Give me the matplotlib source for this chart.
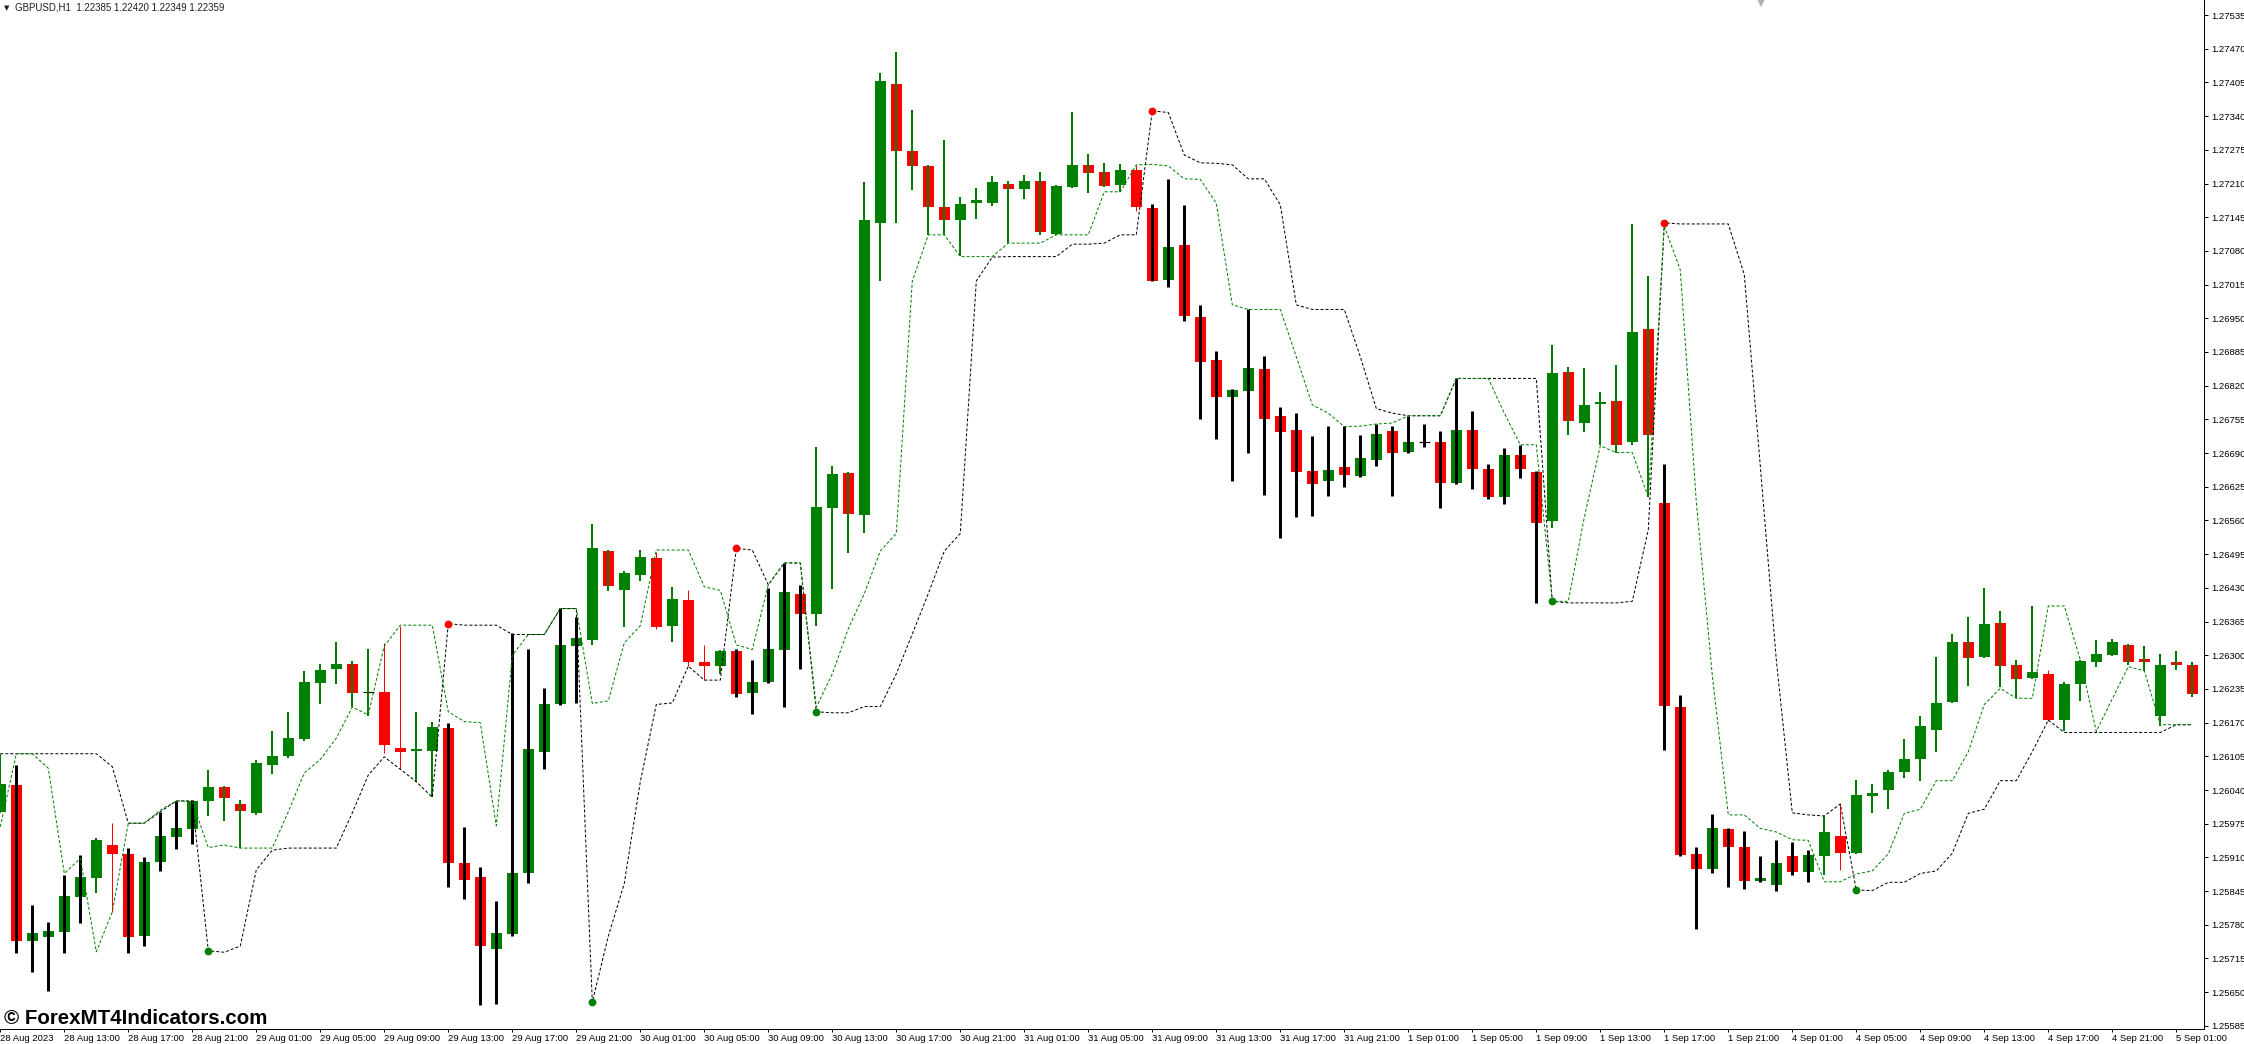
import matplotlib
matplotlib.use("Agg")
import matplotlib.pyplot as plt
import numpy as np

plt.rcParams['font.family'] = ['Liberation Sans', 'DejaVu Sans']

# ---------------- data (GBPUSD H1, 28 Aug 2023 09:00 -> 5 Sep 2023 02:00) ----------------
opens = [
    1.25998, 1.26050, 1.25748, 1.25757, 1.25767, 1.25834, 1.25871, 1.25933, 1.25917, 1.25759,
    1.25901, 1.25950, 1.25964, 1.26018, 1.26045, 1.26013, 1.25995, 1.26088, 1.26106, 1.26139,
    1.26247, 1.26274, 1.26283, 1.26230, 1.26229, 1.26122, 1.26115, 1.26115, 1.26160, 1.25900,
    1.25872, 1.25733, 1.25763, 1.25880, 1.26113, 1.26206, 1.26317, 1.26330, 1.26501, 1.26426,
    1.26455, 1.26488, 1.26357, 1.26407, 1.26287, 1.26279, 1.26308, 1.26228, 1.26249, 1.26311,
    1.26419, 1.26380, 1.26585, 1.26652, 1.26571, 1.27134, 1.27402, 1.27273, 1.27244, 1.27165,
    1.27139, 1.27172, 1.27173, 1.27209, 1.27200, 1.27215, 1.27113, 1.27204, 1.27246, 1.27232,
    1.27207, 1.27236, 1.27163, 1.27023, 1.27092, 1.26953, 1.26870, 1.26799, 1.26810, 1.26853,
    1.26762, 1.26735, 1.26656, 1.26637, 1.26664, 1.26646, 1.26677, 1.26733, 1.26693, 1.26712,
    1.26712, 1.26633, 1.26735, 1.26659, 1.26605, 1.26686, 1.26654, 1.26558, 1.26846, 1.26748,
    1.26785, 1.26790, 1.26712, 1.26929, 1.26593, 1.26200, 1.25917, 1.25887, 1.25964, 1.25931,
    1.25865, 1.25857, 1.25913, 1.25882, 1.25912, 1.25951, 1.25919, 1.26029, 1.26040, 1.26075,
    1.26099, 1.26155, 1.26209, 1.26326, 1.26297, 1.26363, 1.26281, 1.26257, 1.26264, 1.26175,
    1.26245, 1.26287, 1.26301, 1.26320, 1.26293, 1.26183, 1.26286, 1.26281,
]
highs = [
    1.26110, 1.26088, 1.25818, 1.25785, 1.25876, 1.25915, 1.25947, 1.25976, 1.25928, 1.25911,
    1.25997, 1.26019, 1.26020, 1.26079, 1.26048, 1.26021, 1.26097, 1.26153, 1.26190, 1.26270,
    1.26283, 1.26326, 1.26289, 1.26312, 1.26324, 1.26357, 1.26191, 1.26172, 1.26169, 1.25968,
    1.25892, 1.25826, 1.26342, 1.26312, 1.26237, 1.26391, 1.26374, 1.26553, 1.26503, 1.26463,
    1.26503, 1.26499, 1.26432, 1.26425, 1.26320, 1.26310, 1.26312, 1.26291, 1.26430, 1.26478,
    1.26435, 1.26701, 1.26666, 1.26654, 1.27213, 1.27424, 1.27464, 1.27352, 1.27246, 1.27294,
    1.27184, 1.27201, 1.27224, 1.27215, 1.27227, 1.27232, 1.27208, 1.27348, 1.27267, 1.27250,
    1.27248, 1.27246, 1.27171, 1.27219, 1.27169, 1.26976, 1.26887, 1.26814, 1.26968, 1.26877,
    1.26779, 1.26768, 1.26722, 1.26743, 1.26743, 1.26724, 1.26746, 1.26743, 1.26762, 1.26746,
    1.26733, 1.26835, 1.26771, 1.26669, 1.26700, 1.26706, 1.26656, 1.26899, 1.26856, 1.26854,
    1.26808, 1.26860, 1.27132, 1.27032, 1.26669, 1.26223, 1.25931, 1.25994, 1.25966, 1.25961,
    1.25912, 1.25944, 1.25940, 1.25924, 1.25990, 1.26013, 1.26059, 1.26052, 1.26079, 1.26139,
    1.26183, 1.26297, 1.26341, 1.26374, 1.26430, 1.26385, 1.26291, 1.26395, 1.26272, 1.26248,
    1.26291, 1.26329, 1.26331, 1.26322, 1.26318, 1.26302, 1.26308, 1.26286,
]
lows = [
    1.25996, 1.25725, 1.25688, 1.25653, 1.25725, 1.25783, 1.25841, 1.25805, 1.25726, 1.25740,
    1.25883, 1.25926, 1.25935, 1.25989, 1.25981, 1.25928, 1.25992, 1.26071, 1.26102, 1.26135,
    1.26206, 1.26245, 1.26201, 1.26182, 1.26111, 1.26080, 1.26056, 1.26026, 1.25852, 1.25829,
    1.25625, 1.25627, 1.25758, 1.25861, 1.26081, 1.26204, 1.26208, 1.26319, 1.26423, 1.26355,
    1.26444, 1.26351, 1.26326, 1.26279, 1.26252, 1.26264, 1.26220, 1.26187, 1.26247, 1.26201,
    1.26273, 1.26356, 1.26428, 1.26498, 1.26535, 1.27022, 1.27134, 1.27197, 1.27111, 1.27111,
    1.27070, 1.27141, 1.27166, 1.27095, 1.27181, 1.27111, 1.27111, 1.27202, 1.27192, 1.27203,
    1.27194, 1.27157, 1.27021, 1.27011, 1.26945, 1.26756, 1.26717, 1.26637, 1.26691, 1.26609,
    1.26527, 1.26567, 1.26569, 1.26608, 1.26625, 1.26644, 1.26666, 1.26608, 1.26691, 1.26702,
    1.26585, 1.26630, 1.26620, 1.26601, 1.26591, 1.26641, 1.26401, 1.26546, 1.26724, 1.26731,
    1.26706, 1.26691, 1.26706, 1.26605, 1.26118, 1.25912, 1.25771, 1.25879, 1.25853, 1.25850,
    1.25863, 1.25846, 1.25877, 1.25863, 1.25877, 1.25885, 1.25917, 1.25995, 1.26003, 1.26064,
    1.26058, 1.26113, 1.26207, 1.26241, 1.26294, 1.26238, 1.26217, 1.26255, 1.26173, 1.26153,
    1.26212, 1.26277, 1.26299, 1.26281, 1.26269, 1.26164, 1.26272, 1.26220,
]
closes = [
    1.26052, 1.25748, 1.25764, 1.25768, 1.25836, 1.25872, 1.25944, 1.25916, 1.25757, 1.25901,
    1.25951, 1.25967, 1.26018, 1.26045, 1.26025, 1.26000, 1.26093, 1.26106, 1.26140, 1.26248,
    1.26272, 1.26283, 1.26228, 1.26230, 1.26126, 1.26114, 1.26119, 1.26162, 1.25900, 1.25866,
    1.25739, 1.25764, 1.25880, 1.26119, 1.26206, 1.26320, 1.26333, 1.26507, 1.26434, 1.26458,
    1.26489, 1.26355, 1.26408, 1.26286, 1.26280, 1.26308, 1.26226, 1.26248, 1.26312, 1.26422,
    1.26380, 1.26586, 1.26650, 1.26573, 1.27140, 1.27408, 1.27272, 1.27244, 1.27164, 1.27140,
    1.27171, 1.27179, 1.27213, 1.27200, 1.27215, 1.27117, 1.27206, 1.27246, 1.27231, 1.27205,
    1.27236, 1.27164, 1.27022, 1.27088, 1.26955, 1.26866, 1.26799, 1.26812, 1.26855, 1.26756,
    1.26731, 1.26654, 1.26631, 1.26657, 1.26648, 1.26681, 1.26727, 1.26691, 1.26712, 1.26712,
    1.26632, 1.26735, 1.26659, 1.26606, 1.26686, 1.26659, 1.26556, 1.26845, 1.26751, 1.26783,
    1.26789, 1.26706, 1.26924, 1.26724, 1.26202, 1.25915, 1.25887, 1.25966, 1.25931, 1.25865,
    1.25870, 1.25899, 1.25881, 1.25915, 1.25959, 1.25919, 1.26030, 1.26034, 1.26075, 1.26100,
    1.26164, 1.26207, 1.26326, 1.26295, 1.26360, 1.26280, 1.26255, 1.26268, 1.26175, 1.26245,
    1.26289, 1.26302, 1.26326, 1.26287, 1.26286, 1.26281, 1.26281, 1.26225,
]

# indicator: slow band (black dotted) and fast band (green dotted)
slow_band = [
    1.26110, 1.26110, 1.26110, 1.26110, 1.26110, 1.26110, 1.26110, 1.26085, 1.25976, 1.25976,
    1.25998, 1.26019, 1.26019, 1.25730, 1.25727, 1.25739, 1.25886, 1.25924, 1.25928, 1.25928,
    1.25928, 1.25928, 1.25996, 1.26069, 1.26104, 1.26080, 1.26056, 1.26026, 1.26361, 1.26358,
    1.26358, 1.26358, 1.26340, 1.26340, 1.26340, 1.26390, 1.26390, 1.25631, 1.25758, 1.25860,
    1.26056, 1.26205, 1.26208, 1.26279, 1.26252, 1.26252, 1.26506, 1.26503, 1.26436, 1.26478,
    1.26478, 1.26191, 1.26189, 1.26189, 1.26201, 1.26201, 1.26264, 1.26341, 1.26419, 1.26501,
    1.26535, 1.27022, 1.27068, 1.27069, 1.27069, 1.27069, 1.27069, 1.27093, 1.27093, 1.27095,
    1.27111, 1.27111, 1.27350, 1.27347, 1.27265, 1.27250, 1.27249, 1.27246, 1.27219, 1.27219,
    1.27169, 1.26976, 1.26967, 1.26967, 1.26967, 1.26876, 1.26776, 1.26767, 1.26762, 1.26762,
    1.26762, 1.26834, 1.26834, 1.26834, 1.26834, 1.26834, 1.26834, 1.26404, 1.26401, 1.26401,
    1.26401, 1.26401, 1.26404, 1.26542, 1.27134, 1.27132, 1.27132, 1.27132, 1.27132, 1.27034,
    1.26665, 1.26291, 1.25996, 1.25992, 1.25990, 1.26013, 1.25847, 1.25846, 1.25862, 1.25862,
    1.25879, 1.25884, 1.25918, 1.25995, 1.26003, 1.26058, 1.26058, 1.26114, 1.26175, 1.26151,
    1.26151, 1.26151, 1.26151, 1.26151, 1.26151, 1.26151, 1.26166, 1.26166,
]
fast_band = [
    1.25969, 1.26110, 1.26110, 1.26082, 1.25879, 1.25908, 1.25728, 1.25805, 1.25976, 1.25976,
    1.26001, 1.26019, 1.26018, 1.25929, 1.25934, 1.25928, 1.25928, 1.25928, 1.25998, 1.26073,
    1.26099, 1.26140, 1.26200, 1.26185, 1.26318, 1.26358, 1.26358, 1.26358, 1.26191, 1.26172,
    1.26170, 1.25971, 1.26300, 1.26340, 1.26340, 1.26390, 1.26390, 1.26207, 1.26212, 1.26324,
    1.26357, 1.26503, 1.26503, 1.26503, 1.26432, 1.26425, 1.26320, 1.26311, 1.26436, 1.26478,
    1.26478, 1.26200, 1.26264, 1.26351, 1.26419, 1.26501, 1.26535, 1.27022, 1.27111, 1.27111,
    1.27069, 1.27069, 1.27069, 1.27095, 1.27095, 1.27095, 1.27111, 1.27111, 1.27111, 1.27194,
    1.27194, 1.27246, 1.27247, 1.27244, 1.27219, 1.27218, 1.27172, 1.26976, 1.26967, 1.26967,
    1.26967, 1.26876, 1.26783, 1.26767, 1.26741, 1.26742, 1.26746, 1.26748, 1.26762, 1.26762,
    1.26762, 1.26834, 1.26834, 1.26834, 1.26767, 1.26706, 1.26706, 1.26404, 1.26404, 1.26566,
    1.26704, 1.26691, 1.26691, 1.26605, 1.27128, 1.27043, 1.26596, 1.26261, 1.25992, 1.25992,
    1.25966, 1.25959, 1.25944, 1.25943, 1.25863, 1.25863, 1.25878, 1.25884, 1.25917, 1.25995,
    1.26003, 1.26058, 1.26058, 1.26114, 1.26205, 1.26236, 1.26217, 1.26217, 1.26395, 1.26395,
    1.26291, 1.26153, 1.26216, 1.26278, 1.26270, 1.26166, 1.26166, 1.26166,
]
sell_signals = [28, 46, 72, 104]
buy_signals = [13, 37, 51, 97, 116]

# wick colour per bar: k = black, g = green, r = red
wick_codes = ("gkkkkkgrkk" "kkkggggggg" "ggggrrggkk" "kkkkkkkggg" "grgrrgkkkk"
              "kggggggggg" "gggggggggg" "grkkkkkkkk" "kkkkkkkkkk" "kkkkkkkggg"
              "ggggkkkkkk" "kkkkgrgggg" "ggggggggrg" "gggggggg")

price_ticks = ["1.25585", "1.25650", "1.25715", "1.25780", "1.25845", "1.25910", "1.25975",
               "1.26040", "1.26105", "1.26170", "1.26235", "1.26300", "1.26365", "1.26430",
               "1.26495", "1.26560", "1.26625", "1.26690", "1.26755", "1.26820", "1.26885",
               "1.26950", "1.27015", "1.27080", "1.27145", "1.27210", "1.27275", "1.27340",
               "1.27405", "1.27470", "1.27535"]
time_tick_bars = list(range(0, 137, 4))
time_tick_labels = ["28 Aug 2023", "28 Aug 13:00", "28 Aug 17:00", "28 Aug 21:00",
                    "29 Aug 01:00", "29 Aug 05:00", "29 Aug 09:00", "29 Aug 13:00",
                    "29 Aug 17:00", "29 Aug 21:00", "30 Aug 01:00", "30 Aug 05:00",
                    "30 Aug 09:00", "30 Aug 13:00", "30 Aug 17:00", "30 Aug 21:00",
                    "31 Aug 01:00", "31 Aug 05:00", "31 Aug 09:00", "31 Aug 13:00",
                    "31 Aug 17:00", "31 Aug 21:00", "1 Sep 01:00", "1 Sep 05:00",
                    "1 Sep 09:00", "1 Sep 13:00", "1 Sep 17:00", "1 Sep 21:00",
                    "4 Sep 01:00", "4 Sep 05:00", "4 Sep 09:00", "4 Sep 13:00",
                    "4 Sep 17:00", "4 Sep 21:00", "5 Sep 01:00"]

header = "GBPUSD,H1  1.22385 1.22420 1.22349 1.22359"
watermark = "© ForexMT4Indicators.com"

# ---------------- drawing ----------------
W, H = 2244, 1044
PX = 0.72  # one pixel in points at dpi 100
GREEN, RED, BLACK = "#008000", "#ff0000", "#000000"

fig = plt.figure(figsize=(W / 100, H / 100), dpi=100)
fig.patch.set_facecolor("white")
ax = fig.add_axes([0, 15 / H, 2204 / W, 1 - 15 / H])
ax.set_facecolor("white")

o = np.array(opens); h = np.array(highs); l = np.array(lows); c = np.array(closes)
n = len(o)
x = np.arange(n)
px_price = (1.27564 - 1.25579) / 1029.0
body_w = 11 / 16

# bodies
up = c > o
dn = c < o
body_col = np.where(up, GREEN, RED)
bottom = np.minimum(o, c)
height = np.maximum(np.abs(c - o), 1.5 * px_price)
mask = up | dn
ax.bar(x[mask], height[mask], bottom=bottom[mask], width=body_w,
       color=body_col[mask], linewidth=0, zorder=2)
doji = ~mask
ax.hlines(o[doji], x[doji] - body_w / 2, x[doji] + body_w / 2, colors=BLACK,
          linewidth=1.2 * PX, zorder=3)

# wicks
cmap = {"k": BLACK, "g": GREEN, "r": RED}
wmap = {"k": 3 * PX, "g": 2 * PX, "r": 1 * PX}
ax.vlines(x, l, h, colors=[cmap[ch] for ch in wick_codes],
          linewidths=[wmap[ch] for ch in wick_codes], zorder=3)

# indicator bands
ax.plot(x, slow_band, color=BLACK, linewidth=PX, linestyle=(0, (3, 2)), zorder=4)
ax.plot(x, fast_band, color=GREEN, linewidth=PX, linestyle=(0, (3, 2)), zorder=4)
sb = np.array(slow_band)
ax.plot(sell_signals, sb[sell_signals], "o", color=RED, markersize=5.6,
        markeredgewidth=0, zorder=5)
ax.plot(buy_signals, sb[buy_signals], "o", color=GREEN, markersize=5.6,
        markeredgewidth=0, zorder=5)

ax.set_xlim(-0.3 / 16, (2204 - 0.3) / 16)
ax.set_ylim(1.25579, 1.27564)

for s in ("top", "left"):
    ax.spines[s].set_visible(False)
for s in ("right", "bottom"):
    ax.spines[s].set_color(BLACK)
    ax.spines[s].set_linewidth(PX)

ax.yaxis.tick_right()
ax.set_yticks([float(t) for t in price_ticks])
ax.set_yticklabels(price_ticks)
ax.tick_params(axis="y", direction="out", length=4 * PX, width=PX, pad=2.2,
               labelsize=6.8, colors=BLACK)
ax.set_xticks(time_tick_bars)
ax.set_xticklabels(time_tick_labels, ha="left")
ax.tick_params(axis="x", direction="out", length=3 * PX, width=PX, pad=1.2,
               labelsize=6.8, colors=BLACK)

# header
fig.text(4 / W, 1 - 8.5 / H, "▼", fontsize=5, family=["DejaVu Sans"],
         va="center", ha="left", color="#202020")
fig.text(15 / W, 1 - 8 / H, header, fontsize=7, va="center", ha="left",
         color="#202020")

# chart-shift marker
ax.plot([1761 / 2204], [1 - 2.5 / 1029], marker="v", color="#b0b0b0",
        markersize=6, markeredgewidth=0, transform=ax.transAxes, clip_on=False,
        zorder=6)

# watermark
fig.text(4 / W, (H - 1019) / H, watermark, fontsize=14.8, fontweight="bold",
         va="center", ha="left", color=BLACK)

fig.savefig("out.png", dpi=100, facecolor="white")
